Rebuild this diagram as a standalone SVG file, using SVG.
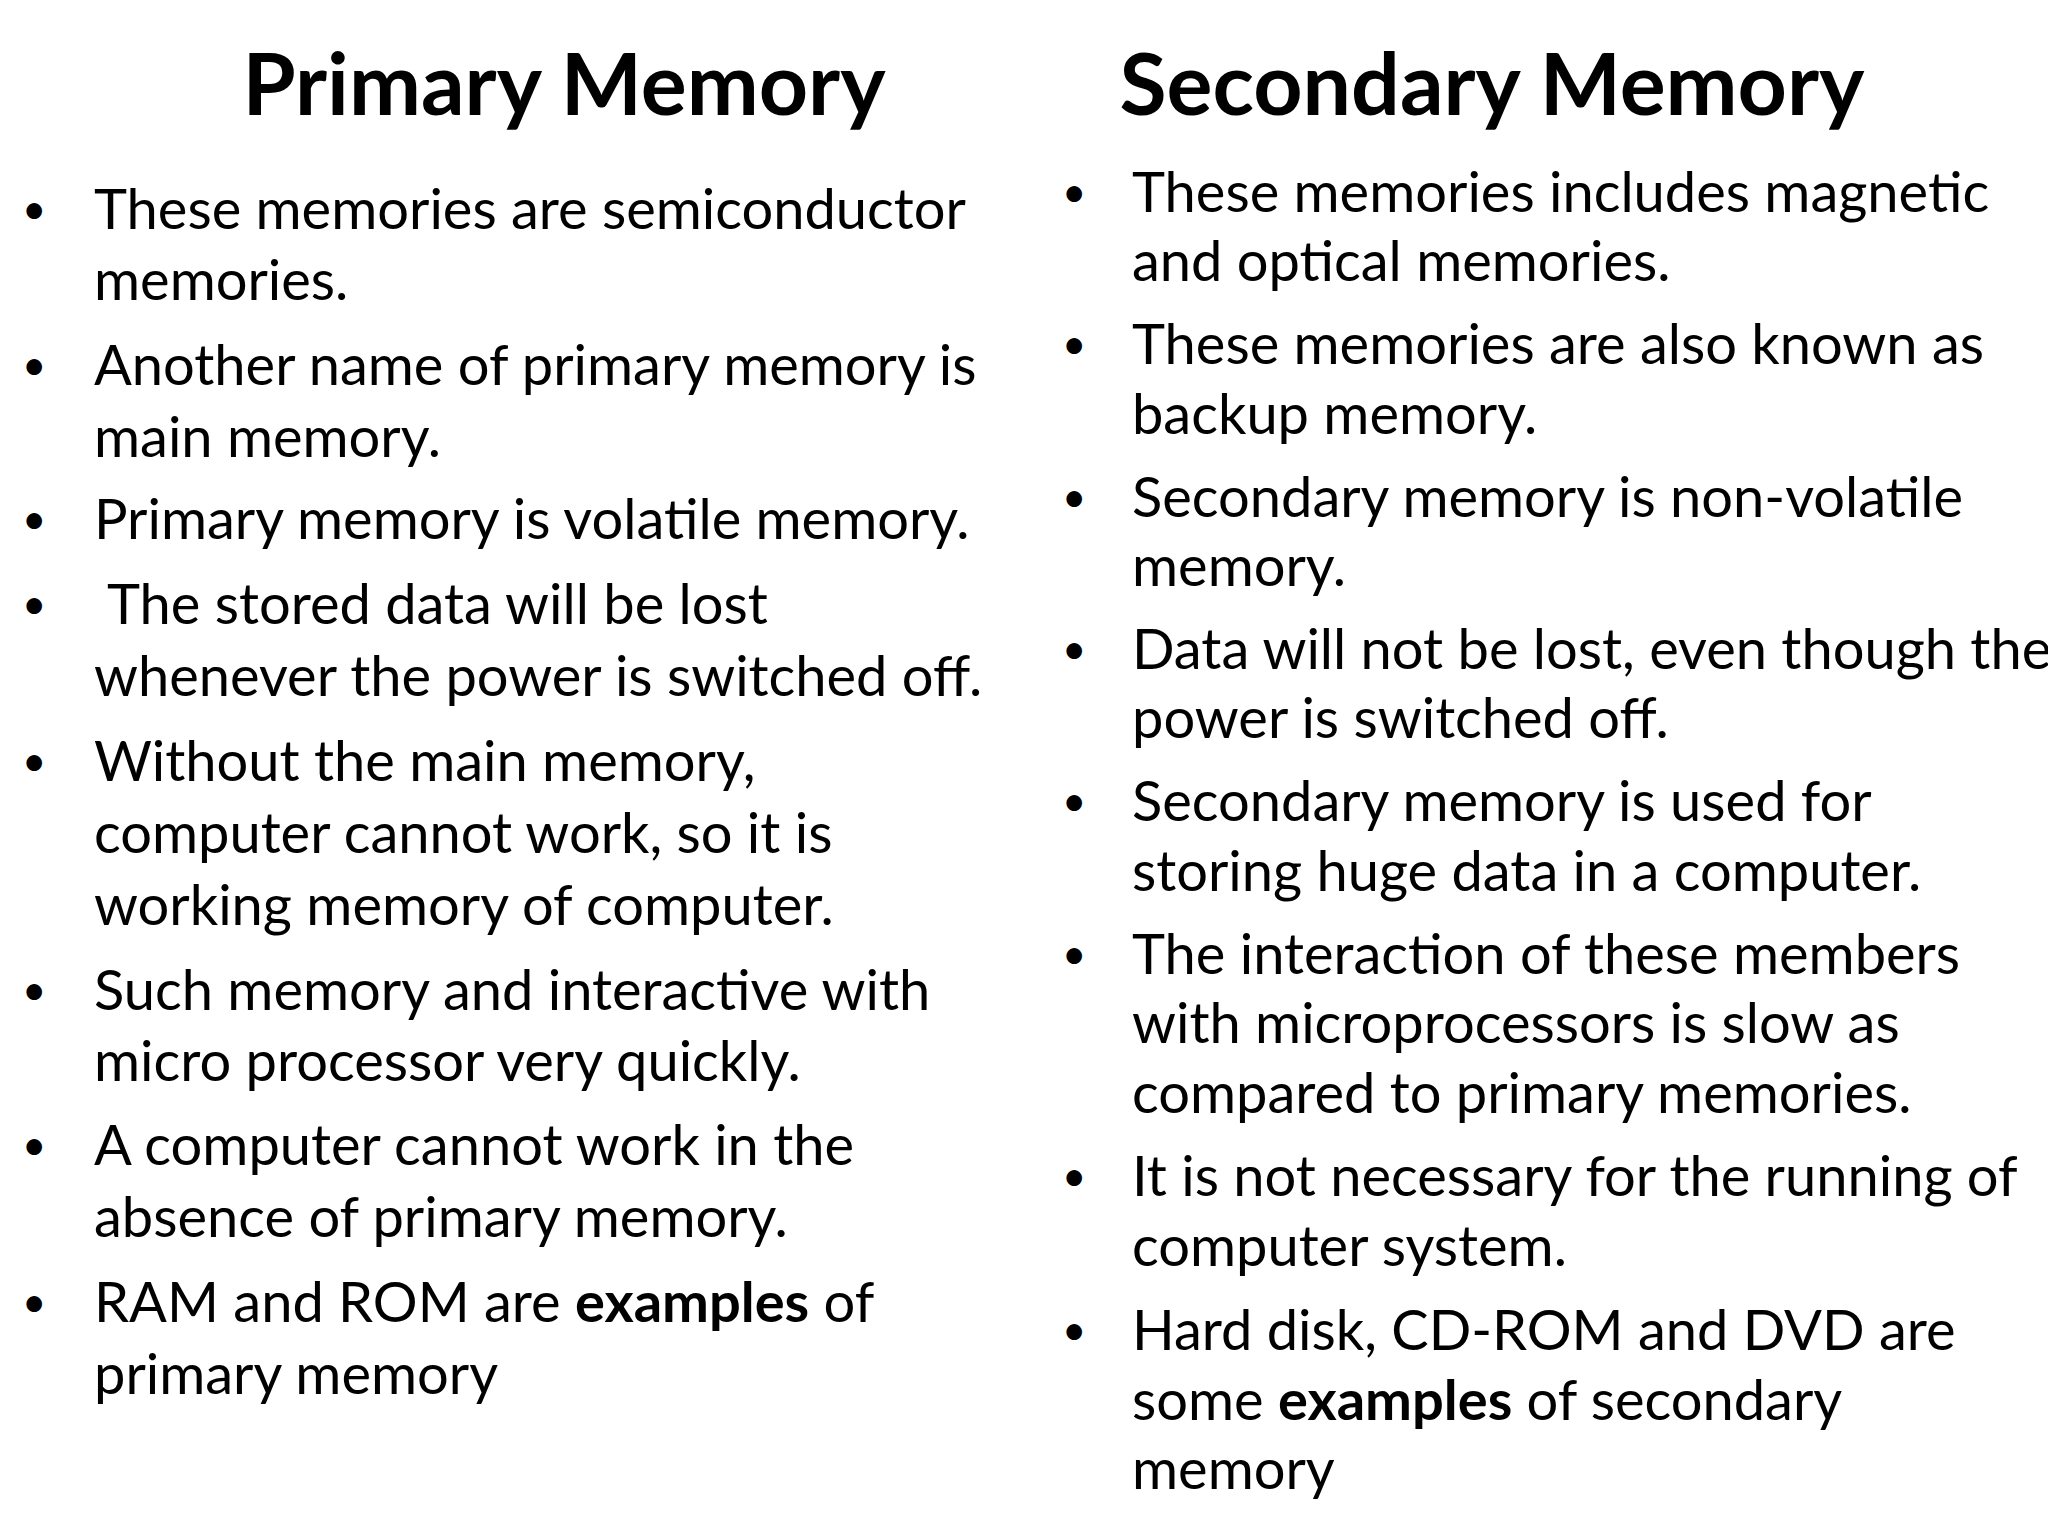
<svg xmlns="http://www.w3.org/2000/svg" width="2048" height="1536" viewBox="0 0 2048 1536">
<style>
text{font-family:Lato,"Open Sans","Liberation Sans",sans-serif;fill:#000}
.t{font-size:86px;font-weight:bold;text-anchor:middle}
.b{font-size:56px}
.d{font-size:42px}
</style>
<rect width="2048" height="1536" fill="#fff"/>
<g id="primary">
<text class="t" x="564" y="115">Primary Memory</text>
<g class="b">
<text class="d" x="22" y="224">•</text><text x="94" y="229">These memories are semiconductor</text><text x="94" y="300">memories.</text>
<text class="d" x="22" y="380">•</text><text x="94" y="385">Another name of primary memory is</text><text x="94" y="457">main memory.</text>
<text class="d" x="22" y="534">•</text><text x="94" y="539">Primary memory is volatile memory.</text>
<text class="d" x="22" y="619">•</text><text x="107" y="624">The stored data will be lost</text><text x="94" y="696">whenever the power is switched off.</text>
<text class="d" x="22" y="776">•</text><text x="94" y="781">Without the main memory,</text><text x="94" y="853">computer cannot work, so it is</text><text x="94" y="925">working memory of computer.</text>
<text class="d" x="22" y="1005">•</text><text x="94" y="1010">Such memory and interactive with</text><text x="94" y="1081">micro processor very quickly.</text>
<text class="d" x="22" y="1160">•</text><text x="94" y="1165">A computer cannot work in the</text><text x="94" y="1237">absence of primary memory.</text>
<text class="d" x="22" y="1317">•</text><text x="94" y="1322">RAM and ROM are <tspan font-weight="bold">examples</tspan> of</text><text x="94" y="1394">primary memory</text>
</g>
</g>
<g id="secondary">
<text class="t" x="1492" y="115">Secondary Memory</text>
<g class="b">
<text class="d" x="1062" y="207">•</text><text x="1132" y="212">These memories includes magnetic</text><text x="1132" y="281">and optical memories.</text>
<text class="d" x="1062" y="359">•</text><text x="1132" y="364">These memories are also known as</text><text x="1132" y="434">backup memory.</text>
<text class="d" x="1062" y="512">•</text><text x="1132" y="517">Secondary memory is non-volatile</text><text x="1132" y="586">memory.</text>
<text class="d" x="1062" y="664">•</text><text x="1132" y="669">Data will not be lost, even though the</text><text x="1132" y="738">power is switched off.</text>
<text class="d" x="1062" y="816">•</text><text x="1132" y="821">Secondary memory is used for</text><text x="1132" y="891">storing huge data in a computer.</text>
<text class="d" x="1062" y="969">•</text><text x="1132" y="974">The interaction of these members</text><text x="1132" y="1043">with microprocessors is slow as</text><text x="1132" y="1113">compared to primary memories.</text>
<text class="d" x="1062" y="1191">•</text><text x="1132" y="1196">It is not necessary for the running of</text><text x="1132" y="1266">computer system.</text>
<text class="d" x="1062" y="1345">•</text><text x="1132" y="1350">Hard disk, CD-ROM and DVD are</text><text x="1132" y="1420">some <tspan font-weight="bold">examples</tspan> of secondary</text><text x="1132" y="1489">memory</text>
</g>
</g>
</svg>
